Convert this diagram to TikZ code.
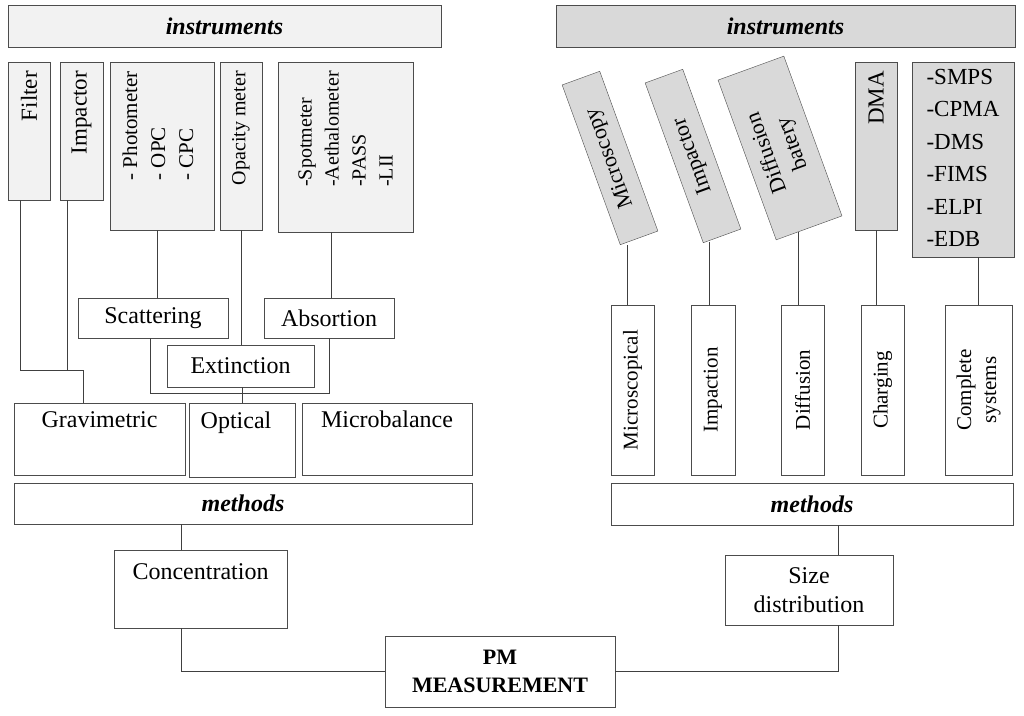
\documentclass[tikz,border=0pt]{standalone}
\usepackage{fontspec}
\setmainfont{Liberation Serif}
\definecolor{lightbox}{HTML}{F2F2F2}
\definecolor{darkbox}{HTML}{D9D9D9}
\tikzset{
	box/.style={draw=black!70, fill=white, inner sep=0, font=\fontsize{24}{29}\selectfont, align=center},
	inst/.style={box, fill=lightbox},
	instr/.style={box, fill=darkbox},
	vert/.style={rotate=90},
	vtext/.style={rotate=90, inner sep=0, font=\fontsize{23}{29}\selectfont, align=center},
	tilt/.style={instr, rotate=110, minimum width=170pt, font=\fontsize{22}{27}\selectfont},
	head/.style={font=\fontsize{24}{29}\selectfont\bfseries\itshape},
	link/.style={draw=black!75, line width=0.8pt}
}
\begin{document}
\begin{tikzpicture}[x=1pt, y=-1pt]
	\useasboundingbox (0,0) rectangle (1024,715);

	% headers
	\node[inst, minimum width=433, minimum height=42, head] (hl) at (224.5,26) {instruments};
	\node[instr, minimum width=459, minimum height=42, head] (hr) at (785.5,26) {instruments};

	% left instruments
	\node[inst, vert, minimum width=138, minimum height=42] (filter) at (29,131) {};
	\node[vtext, anchor=east] at (29,71) {Filter};
	\node[inst, vert, minimum width=138, minimum height=43] (imp) at (81.5,131) {};
	\node[vtext, anchor=east] at (81.5,71) {Impactor};
	\node[inst, vert, minimum width=168, minimum height=104] (phot) at (162,146) {};
	\node[vtext, anchor=east, align=left, font=\fontsize{21}{28}\selectfont] at (158,71) {- Photometer\\- OPC\\- CPC};
	\node[inst, vert, minimum width=168, minimum height=42] (opac) at (241,146) {};
	\node[vtext, anchor=east, font=\fontsize{20}{24}\selectfont] at (241,71) {Opacity meter};
	\node[inst, vert, minimum width=170, minimum height=135] (spot) at (345.5,147) {};
	\node[vtext, anchor=east, align=left, font=\fontsize{20}{27}\selectfont] at (345.5,71) {-Spotmeter\\-Aethalometer\\-PASS\\-LII};

	% left principles
	\node[box, minimum width=150, minimum height=40] (scat) at (153,318) {Scattering};
	\node[box, minimum width=130, minimum height=40] (abs) at (329,318) {Absortion};
	\node[box, minimum width=147, minimum height=42] (ext) at (240.5,366) {Extinction};

	% left methods
	\node[box, minimum width=171, minimum height=72, anchor=north] (grav) at (99.5,403) {};
	\node[box, draw=none, fill=none, anchor=north] at (99.5,411) {Gravimetric};
	\node[box, minimum width=106, minimum height=74, anchor=north] (opt) at (242,403) {};
	\node[box, draw=none, fill=none, anchor=north] at (236,412) {Optical};
	\node[box, minimum width=170, minimum height=72, anchor=north] (micb) at (387,403) {};
	\node[box, draw=none, fill=none, anchor=north] at (387,411) {Microbalance};
	\node[box, minimum width=458, minimum height=41, head] (ml) at (243,503.5) {methods};
	\node[box, minimum width=173, minimum height=78, anchor=north] (conc) at (200.5,550) {};
	\node[box, draw=none, fill=none, anchor=north] at (200.5,563) {Concentration};

	% centre
	\node[box, minimum width=230, minimum height=71, font=\fontsize{22}{28}\selectfont\bfseries] (pm) at (500,671.5) {PM\\MEASUREMENT};

	% right instruments
	\node[tilt, minimum height=40] (micr) at (610,158) {Microscopy};
	\node[tilt, minimum height=40] (impr) at (693,156) {Impactor};
	\node[tilt, minimum height=70] (diff) at (780,148) {Diffusion\\batery};
	\node[instr, vert, minimum width=168, minimum height=42] (dma) at (876,146) {};
	\node[vtext, anchor=east] at (876,71) {DMA};
	\node[instr, minimum width=102, minimum height=195, anchor=north] (smps) at (963,62) {};
	\node[box, draw=none, fill=none, font=\fontsize{23}{32.5}\selectfont, anchor=north, align=left] at (963,69) {-SMPS\\-CPMA\\-DMS\\-FIMS\\-ELPI\\-EDB};
	\coordinate (micr0) at (627,245);
	\coordinate (impr0) at (709,242);
	\coordinate (diff0) at (798,232);

	% right methods
	\node[box, vert, minimum width=170, minimum height=43] (mic) at (632.5,390) {};
	\node[vtext, font=\fontsize{21}{24}\selectfont] at (632.5,390) {Microscopical};
	\node[box, vert, minimum width=170, minimum height=44] (impc) at (713,390) {};
	\node[vtext, font=\fontsize{21}{24}\selectfont] at (713,390) {Impaction};
	\node[box, vert, minimum width=170, minimum height=43] (dif) at (802.5,390) {};
	\node[vtext, font=\fontsize{21}{24}\selectfont] at (802.5,390) {Diffusion};
	\node[box, vert, minimum width=170, minimum height=43] (chg) at (882.5,390) {};
	\node[vtext, font=\fontsize{21}{24}\selectfont] at (882.5,390) {Charging};
	\node[box, vert, minimum width=170, minimum height=67] (cs) at (978.5,390) {};
	\node[vtext, font=\fontsize{21}{25}\selectfont] at (978.5,390) {Complete\\systems};
	\node[box, minimum width=402, minimum height=42, head] (mr) at (812,504) {methods};
	\node[box, minimum width=168, minimum height=70] (size) at (809,590) {Size\\distribution};

	% connectors, left
	\draw[link] (filter.west) ++(-9,0) coordinate (f0) -- (f0 |- 0,370) coordinate (f1) -- (f1 -| 83,0) coordinate (f2) -- (f2 |- grav.north);
	\draw[link] (imp.west) ++(-14.5,0) coordinate (i0) -- (i0 |- 0,370);
	\draw[link] (phot.west) ++(-5,0) coordinate (p0) -- (p0 |- scat.north);
	\draw[link] (spot.west) ++(-14.5,0) coordinate (s0) -- (s0 |- abs.north);
	\draw[link] (opac.west) -- (opac.west |- ext.north);
	\draw[link] (scat.south -| 150,0) coordinate (c0) -- (c0 |- 0,393) coordinate (c1) -- (c1 -| abs.south) -- (abs.south);
	\draw[link] (ext.south -| opt.north) -- (opt.north);
	\draw[link] (ml.south -| 181,0) coordinate (m0) -- (m0 |- conc.north);
	\draw[link] (conc.south -| 181,0) coordinate (k0) -- (k0 |- pm.west) -- (pm.west);

	% connectors, right
	\draw[link] (micr0) -- (micr0 |- mic.east);
	\draw[link] (impr0) -- (impr0 |- impc.east);
	\draw[link] (diff0) -- (diff0 |- dif.east);
	\draw[link] (dma.west) -- (dma.west |- chg.east);
	\draw[link] (smps.south -| cs.east) -- (cs.east);
	\draw[link] (mr.south -| 838,0) coordinate (n0) -- (n0 |- size.north);
	\draw[link] (size.south -| 838,0) coordinate (n1) -- (n1 |- pm.east) -- (pm.east);
\end{tikzpicture}
\end{document}
